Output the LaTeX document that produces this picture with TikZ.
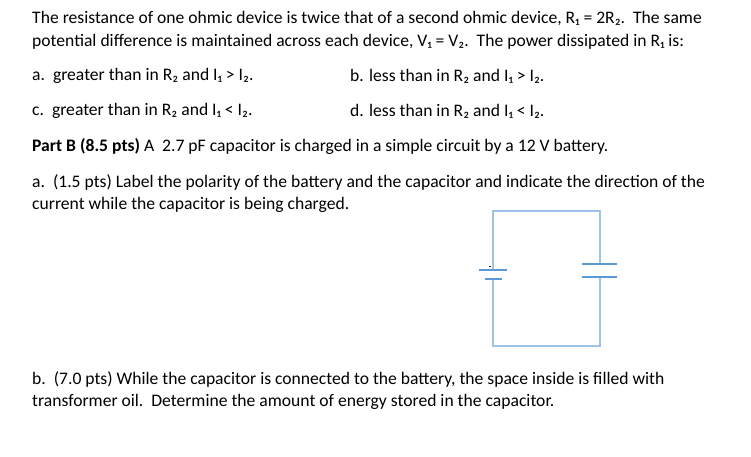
\documentclass[tikz,border=0pt]{standalone}
\usepackage{fontspec}
\setmainfont{Carlito}
\definecolor{wirec}{HTML}{9DC3E6}
\definecolor{platec}{HTML}{5B9BD5}
\begin{document}
\begin{tikzpicture}[x=1bp,y=-1bp,
  txt/.style={anchor=west,inner sep=0pt,font=\fontsize{17.6bp}{20bp}\selectfont},
  wire/.style={draw=wirec,line width=1.6bp},
  plate/.style={draw=platec,line width=2.2bp}]
\useasboundingbox (0,0) rectangle (751,457);
\node[txt] (l1) at (32,19) {The resistance of one ohmic device is twice that of a second ohmic device, R₁ = 2R₂.\ \ The same};
\node[txt] (l2) at (32,42) {potential difference is maintained across each device, V₁ = V₂.\ \ The power dissipated in R₁ is:};
\node[txt] (a) at (32,76) {a.\ \ greater than in R₂ and I₁ > I₂.};
\node[txt] (b) at (350,76) {b. less than in R₂ and I₁ > I₂.};
\node[txt] (c) at (32,111) {c.\ \ greater than in R₂ and I₁ < I₂.};
\node[txt] (d) at (350,111) {d. less than in R₂ and I₁ < I₂.};
\node[txt] (pb) at (32,146) {\textbf{Part B (8.5 pts)} A\ \ 2.7 pF capacitor is charged in a simple circuit by a 12 V battery.};
\node[txt] (pa1) at (32,182) {a.\ \ (1.5 pts) Label the polarity of the battery and the capacitor and indicate the direction of the};
\node[txt] (pa2) at (32,205) {current while the capacitor is being charged.};
\node[txt] (pb1) at (32,379) {b.\ \ (7.0 pts) While the capacitor is connected to the battery, the space inside is filled with};
\node[txt] (pb2) at (32,402) {transformer oil.\ \ Determine the amount of energy stored in the capacitor.};
% circuit
\coordinate (tl) at (493,211); \coordinate (tr) at (600,211);
\coordinate (bl) at (493,346); \coordinate (br) at (600,346);
\coordinate (bt) at (493,270); \coordinate (bb) at (493,279);
\coordinate (ct) at (600,264); \coordinate (cb) at (600,277);
\draw[wire] (bt) -- (tl) -- (tr) -- (ct);
\draw[wire] (bb) -- (bl) -- (br) -- (cb);
\draw[plate] (479,270) -- (507,270);
\draw[plate] (485,279) -- (502,279);
\draw[plate] (582,264) -- (617,264);
\draw[plate] (582,277) -- (617,277);
\draw[black!80,line width=1bp] (489,267) -- (491,267);
\end{tikzpicture}
\end{document}
